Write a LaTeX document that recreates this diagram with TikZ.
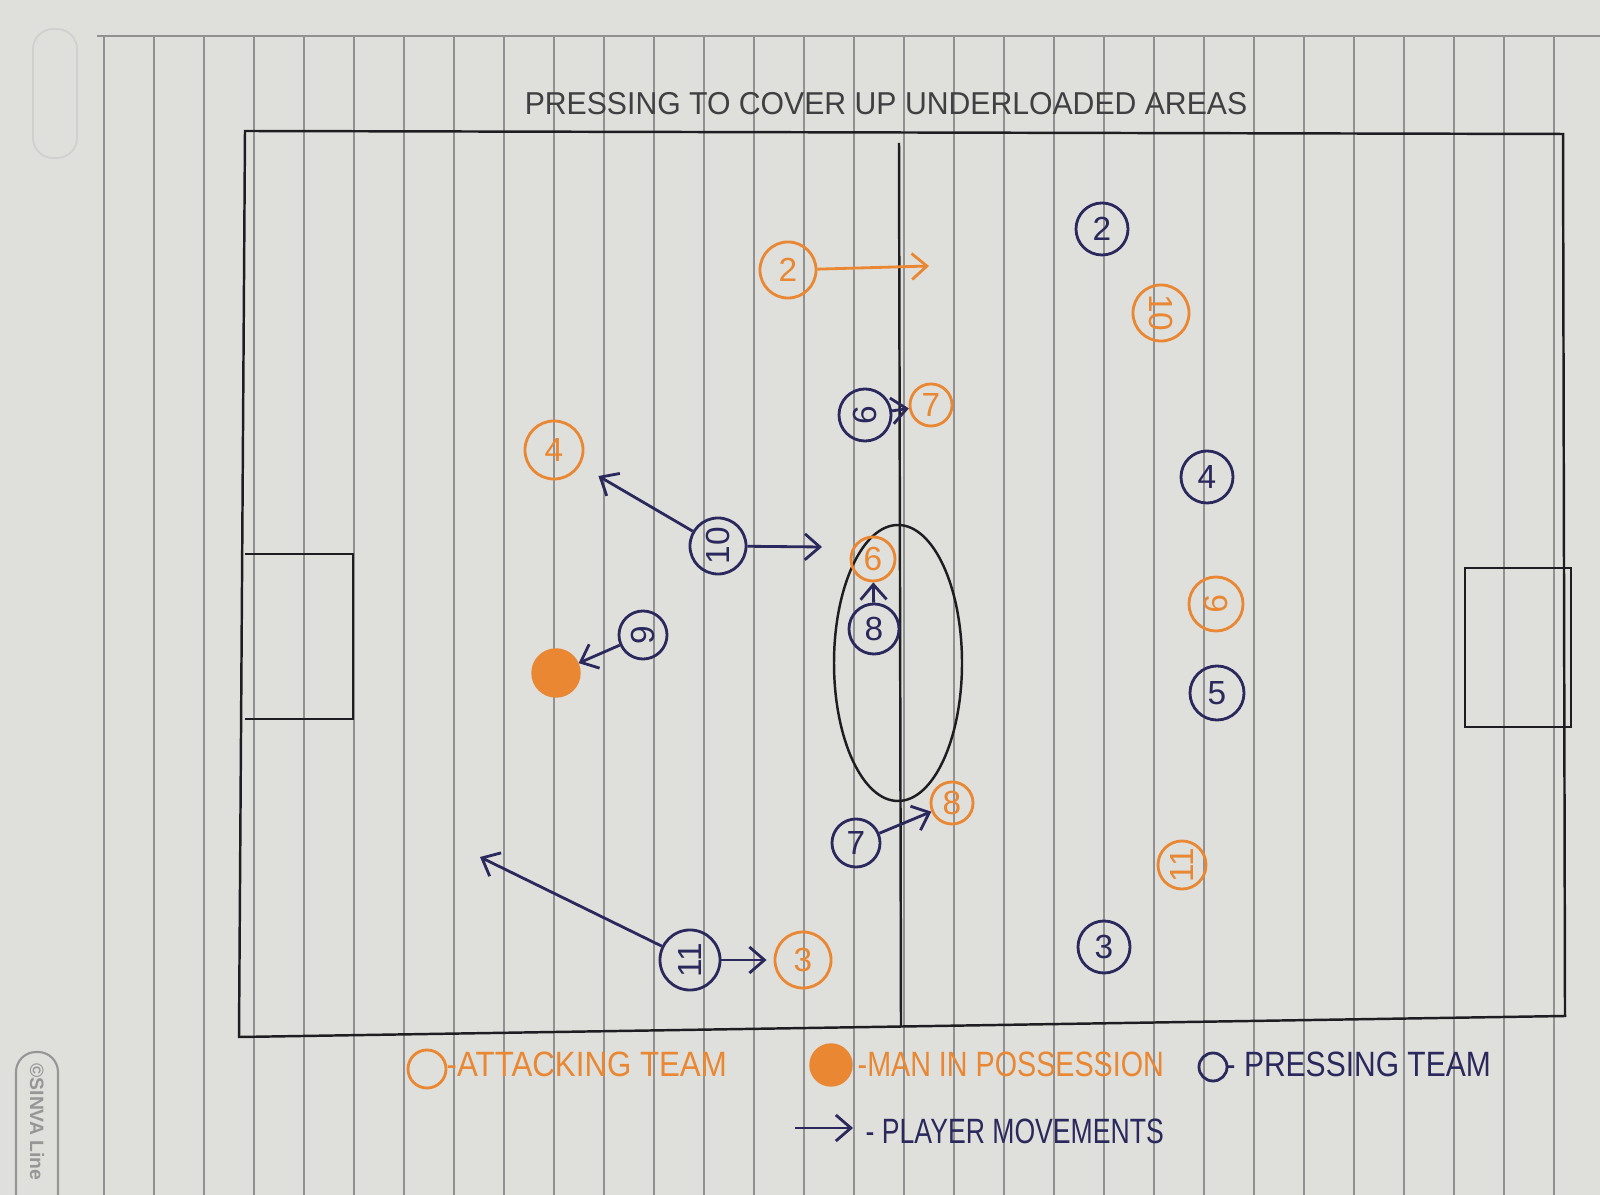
\documentclass[tikz,border=0pt]{standalone}
\usepackage{fontspec}
\usepackage{graphicx}
\setmainfont{Liberation Sans}
\usetikzlibrary{arrows.meta}
\definecolor{paper}{RGB}{223,223,219}
\definecolor{ruling}{RGB}{145,145,145}
\definecolor{oink}{RGB}{233,135,50}
\definecolor{bink}{RGB}{42,40,92}
\definecolor{penink}{RGB}{30,30,34}
\definecolor{logoink}{RGB}{150,150,150}
\newcommand\fitw[2]{\resizebox{#1}{\height}{#2}}
\begin{document}
\begin{tikzpicture}[x=0.01cm,y=-0.01cm,
  num/.style={font=\fontsize{9.5}{9.5}\selectfont},
  att/.style={circle,draw=oink,text=oink,line width=0.8pt,inner sep=0pt,minimum size={#1*0.02cm},num},
  att/.default=26,
  prs/.style={circle,draw=bink,text=bink,line width=0.8pt,inner sep=0pt,minimum size={#1*0.02cm},num},
  prs/.default=26,
  ball/.style={circle,fill=oink,draw=oink,inner sep=0pt,minimum size={#1*0.02cm}},
  mv/.style={draw=bink,line width=0.8pt,-{Straight Barb[length=1.5mm,width=2.6mm]}},
  mvo/.style={mv,draw=oink},
  pen/.style={draw=penink,line width=0.7pt},
  rulestyle/.style={draw=ruling,line width=0.3pt},
  legtext/.style={anchor=west,inner sep=0pt,font=\fontsize{10}{10}\selectfont},
]
\useasboundingbox (0,0) rectangle (1600,1195);
\fill[paper] (0,0) rectangle (1600,1195);
% ruled paper
\foreach \i in {0,...,29} \draw[rulestyle] ({104+50*\i},36) -- ({104+50*\i},1195);
\draw[rulestyle] (97,36) -- (1600,36);
% paper brand marks
\draw[logoink!45,line width=0.5pt,rounded corners=0.2cm] (33,29) rectangle (77,158);
\draw[logoink,line width=0.6pt,rounded corners=0.2cm] (16,1215) rectangle (58,1052);
\node[rotate=-90,text=logoink,font=\bfseries\fontsize{5.5}{5.5}\selectfont,inner sep=0pt] (logo) at (37,1122) {\textcopyright SINVA Line};

% title
\node[text=penink!85,font=\fontsize{9}{9}\selectfont,inner sep=0pt] (title) at (886,104) {\fitw{7.22cm}{PRESSING TO COVER UP UNDERLOADED AREAS}};

% pitch
\draw[pen] (245,131) -- (1563,134) -- (1565,1016) -- (239,1037) -- cycle;
\draw[pen] (899,143) -- (901,1026);
\draw[pen] (245,554) -- (353,554) -- (353,719) -- (245,719);
\draw[pen] (1465,568) rectangle (1571,727);
\draw[pen] (898,663) ellipse [x radius=64, y radius=138];

% attacking team
\node[att=28] (o2) at (788,270) {2};
\node[att=28,rotate=-90] (o10) at (1161,313) {10};
\node[att=21] (o7) at (931,405) {7};
\node[att=29] (o4) at (554,450) {4};
\node[att=22] (o6) at (873,559) {6};
\node[att=27,rotate=-90] (o9) at (1216,604) {9};
\node[att=21] (o8) at (952,803) {8};
\node[att=24,rotate=90] (o11) at (1182,865) {11};
\node[att=28] (o3) at (803,960) {3};
\node[ball=24] (ball) at (556,673) {};

% pressing team
\node[prs=26] (b2) at (1102,229) {2};
\node[prs=26,rotate=90] (b6) at (865,415) {6};
\node[prs=26] (b4) at (1207,477) {4};
\node[prs=28,rotate=90] (b10) at (718,546) {10};
\node[prs=25] (b8) at (874,629) {8};
\node[prs=24,rotate=90] (b9) at (643,635) {9};
\node[prs=27] (b5) at (1217,693) {5};
\node[prs=24] (b7) at (856,843) {7};
\node[prs=30,rotate=90] (b11) at (690,960) {11};
\node[prs=26] (b3) at (1104,947) {3};

% movements
\coordinate (o2e) at (929,266);
\coordinate (b10e) at (822,547);
\coordinate (b11e) at (480,857);
\draw[mvo] (o2) -- (o2e);
\draw[mv,shorten >=6pt] (b10) -- (o4);
\draw[mv] (b10) -- (b10e);
\draw[mv] (b6) -- (o7);
\draw[mv] (b8) -- (o6);
\draw[mv] (b9) -- (ball);
\draw[mv] (b7) -- (o8);
\draw[mv] (b11) -- (b11e);
\draw[mv,shorten >=2pt] (b11) -- (o3);

% legend
\node[att=19] (lgA) at (427,1069) {};
\node[legtext,text=oink] (lgAt) at (446,1064) {\fitw{2.8cm}{-ATTACKING TEAM}};
\node[ball=21] (lgM) at (831,1065) {};
\node[legtext,text=oink] (lgMt) at (857,1064) {\fitw{3.06cm}{-MAN IN POSSESSION}};
\node[prs=14] (lgP) at (1213,1067) {};
\node[legtext,text=bink] (lgPt) at (1225,1064) {\fitw{2.65cm}{- PRESSING TEAM}};
\coordinate (lgv1) at (795,1128);
\coordinate (lgv2) at (853,1128);
\draw[mv] (lgv1) -- (lgv2);
\node[legtext,text=bink] (lgVt) at (865,1131) {\fitw{2.98cm}{- PLAYER MOVEMENTS}};
\end{tikzpicture}
\end{document}
